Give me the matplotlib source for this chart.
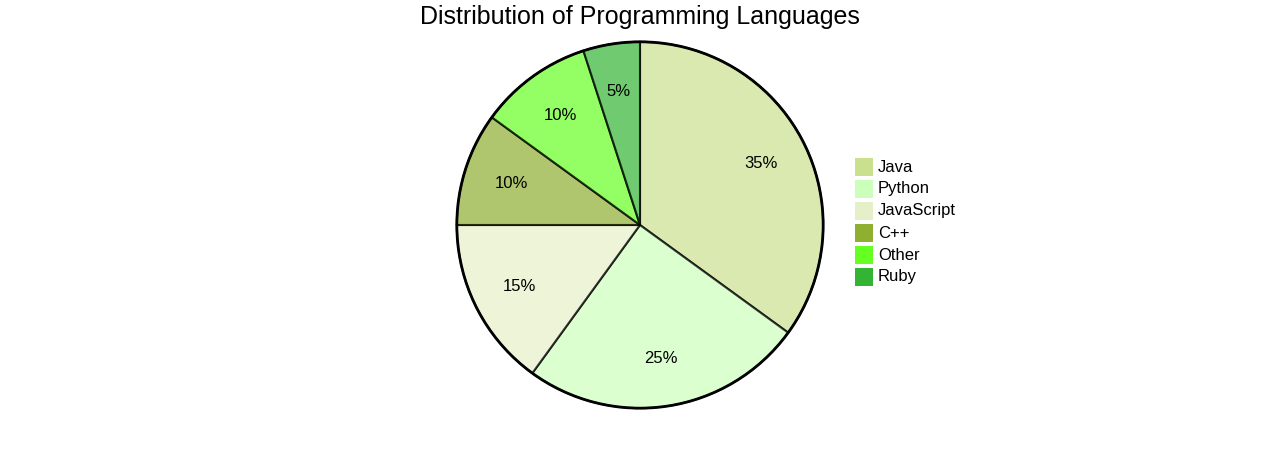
import matplotlib.pyplot as plt
from matplotlib.patches import Rectangle, Circle

languages = ['Java', 'Python', 'JavaScript', 'C++', 'Other', 'Ruby']
shares = [35, 25, 15, 10, 10, 5]
legend_colors = ['#c9e08f', '#ccffbb', '#e6f0c8', '#8faf30', '#66ff22', '#33b533']

plt.rcParams['font.family'] = ['Liberation Sans', 'DejaVu Sans']

fig = plt.figure(figsize=(12.8, 4.5), dpi=100)
W, H = 1280, 450
cx, cy, r = 640, 225, 185
ax = fig.add_axes([(cx - r) / W, (H - cy - r) / H, 2 * r / W, 2 * r / H])

wedges, texts, autotexts = ax.pie(
    shares, colors=legend_colors, startangle=90, counterclock=False,
    autopct='%1.0f%%', pctdistance=0.74, radius=1,
    wedgeprops=dict(edgecolor='black', linewidth=1.5, alpha=0.7),
    textprops=dict(fontsize=12, color='black'))
for t in autotexts:
    t.set_alpha(1)
ax.add_patch(Circle((0, 0), 1, fill=False, edgecolor='black', linewidth=2))
ax.set_xlim(-1.01, 1.01)
ax.set_ylim(-1.01, 1.01)
ax.set_aspect('equal')
ax.axis('off')

fig.text(0.5, 1 - 17 / H, 'Distribution of Programming Languages',
         ha='center', va='center', fontsize=18)

# legend
for i, (name, col) in enumerate(zip(languages, legend_colors)):
    y = 167 + 22 * i
    fig.add_artist(Rectangle((855 / W, 1 - (y + 9) / H), 18 / W, 18 / H,
                             transform=fig.transFigure, facecolor=col,
                             edgecolor='none'))
    fig.text(878 / W, 1 - y / H, name, ha='left', va='center', fontsize=12)

fig.savefig('out.png', dpi=100)
